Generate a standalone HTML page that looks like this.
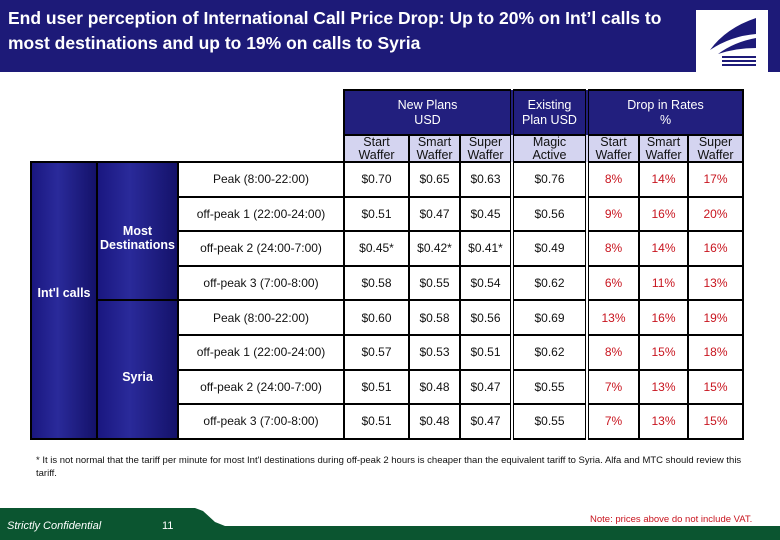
<!DOCTYPE html>
<html><head><meta charset="utf-8">
<style>
body{margin:0;width:780px;height:540px;position:relative;overflow:hidden;background:#fff;font-family:"Liberation Sans",sans-serif;}
#hdr{position:absolute;left:0;top:0;width:780px;height:72px;background:#1d1a78;}
#title{position:absolute;left:8px;top:6px;color:#fff;font-size:17.5px;line-height:25px;font-weight:bold;font-family:"Liberation Sans Narrow","Liberation Sans",sans-serif;}
#logo{position:absolute;left:696px;top:10px;width:72px;height:62px;background:#fff;}
table{position:absolute;left:30px;top:89px;border-collapse:collapse;table-layout:fixed;}
td{border:2px solid #000;text-align:center;font-size:12px;padding:0;height:32.6px;color:#111;}
.hd{background:#221f7e;color:#fff;font-size:12.5px;height:43px;line-height:15px;}
.sh{background:#d4d4f0;color:#111;font-size:12.5px;line-height:12.5px;height:25px;}
.blank{border:none;background:#fff;}
.side{background:linear-gradient(90deg,#1a1780,#2a2a9a 40%,#14126a);color:#fff;font-weight:bold;font-size:12.5px;}
.r{color:#c8141e;}
.dl{border-left:4px double #000;}
#note{position:absolute;left:36px;top:454px;font-size:9.5px;color:#111;width:720px;line-height:13px;}
#foot{position:absolute;left:0;top:526px;width:780px;height:14px;background:#0b5530;}
#tab{position:absolute;left:0;top:508px;width:240px;height:32px;background:#0b5530;clip-path:polygon(0 0,195px 0,203px 3px,215px 14px,225px 18px,240px 18px,240px 100%,0 100%);}
#conf{position:absolute;left:7px;top:520px;color:#fff;font-style:italic;font-size:11px;}
#pg{position:absolute;left:162px;top:520px;color:#fff;font-size:11px;}
#vat{position:absolute;left:590px;top:514px;color:#c8141e;font-size:9.5px;}
</style></head><body>
<div id="hdr">
<div id="title">End user perception of International Call Price Drop: Up to 20% on Int’l calls to<br>most destinations and up to 19% on calls to Syria</div>
<div id="logo">
<svg width="72" height="62"><path d="M60 8 Q30 18 14 40 Q35 26 60 24Z" fill="#1d1a78"/><path d="M60 28 Q38 32 22 44 Q40 38 60 38Z" fill="#1d1a78"/><rect x="26" y="46" width="34" height="2" fill="#1d1a78"/><rect x="26" y="50" width="34" height="2" fill="#1d1a78"/><rect x="26" y="54" width="34" height="2" fill="#1d1a78"/></svg></div>
</div>
<table>
<colgroup><col style="width:66px"><col style="width:81px"><col style="width:166px"><col style="width:65px"><col style="width:51px"><col style="width:52px"><col style="width:75px"><col style="width:52px"><col style="width:49px"><col style="width:55px"></colgroup>
<tr><td class="blank" colspan="3" style="height:43px"></td><td class="hd" colspan="3">New Plans<br>USD</td><td class="hd dl">Existing<br>Plan USD</td><td class="hd dl" colspan="3">Drop in Rates<br>%</td></tr>
<tr><td class="blank" colspan="3" style="height:25px"></td><td class="sh">Start<br>Waffer</td><td class="sh">Smart<br>Waffer</td><td class="sh">Super<br>Waffer</td><td class="sh dl">Magic<br>Active</td><td class="sh dl">Start<br>Waffer</td><td class="sh">Smart<br>Waffer</td><td class="sh">Super<br>Waffer</td></tr>
<tr><td class="side" rowspan="8" style="padding-bottom:14px">Int'l calls</td><td class="side" rowspan="4" style="padding-top:14px">Most<br>Destinations</td><td>Peak (8:00-22:00)</td><td>$0.70</td><td>$0.65</td><td>$0.63</td><td class="dl">$0.76</td><td class="r dl">8%</td><td class="r">14%</td><td class="r">17%</td></tr>
<tr><td>off-peak 1 (22:00-24:00)</td><td>$0.51</td><td>$0.47</td><td>$0.45</td><td class="dl">$0.56</td><td class="r dl">9%</td><td class="r">16%</td><td class="r">20%</td></tr>
<tr><td>off-peak 2 (24:00-7:00)</td><td>$0.45*</td><td>$0.42*</td><td>$0.41*</td><td class="dl">$0.49</td><td class="r dl">8%</td><td class="r">14%</td><td class="r">16%</td></tr>
<tr><td>off-peak 3 (7:00-8:00)</td><td>$0.58</td><td>$0.55</td><td>$0.54</td><td class="dl">$0.62</td><td class="r dl">6%</td><td class="r">11%</td><td class="r">13%</td></tr>
<tr><td class="side" rowspan="4" style="padding-top:14px">Syria</td><td>Peak (8:00-22:00)</td><td>$0.60</td><td>$0.58</td><td>$0.56</td><td class="dl">$0.69</td><td class="r dl">13%</td><td class="r">16%</td><td class="r">19%</td></tr>
<tr><td>off-peak 1 (22:00-24:00)</td><td>$0.57</td><td>$0.53</td><td>$0.51</td><td class="dl">$0.62</td><td class="r dl">8%</td><td class="r">15%</td><td class="r">18%</td></tr>
<tr><td>off-peak 2 (24:00-7:00)</td><td>$0.51</td><td>$0.48</td><td>$0.47</td><td class="dl">$0.55</td><td class="r dl">7%</td><td class="r">13%</td><td class="r">15%</td></tr>
<tr><td>off-peak 3 (7:00-8:00)</td><td>$0.51</td><td>$0.48</td><td>$0.47</td><td class="dl">$0.55</td><td class="r dl">7%</td><td class="r">13%</td><td class="r">15%</td></tr>
</table>
<div id="note">* It is not normal that the tariff per minute for most Int'l destinations during off-peak 2 hours is cheaper than the equivalent tariff to Syria. Alfa and MTC should review this tariff.</div>
<div id="foot"></div>
<div id="tab"></div>
<div id="conf">Strictly Confidential</div>
<div id="pg">11</div>
<div id="vat">Note: prices above do not include VAT.</div>
</body></html>
